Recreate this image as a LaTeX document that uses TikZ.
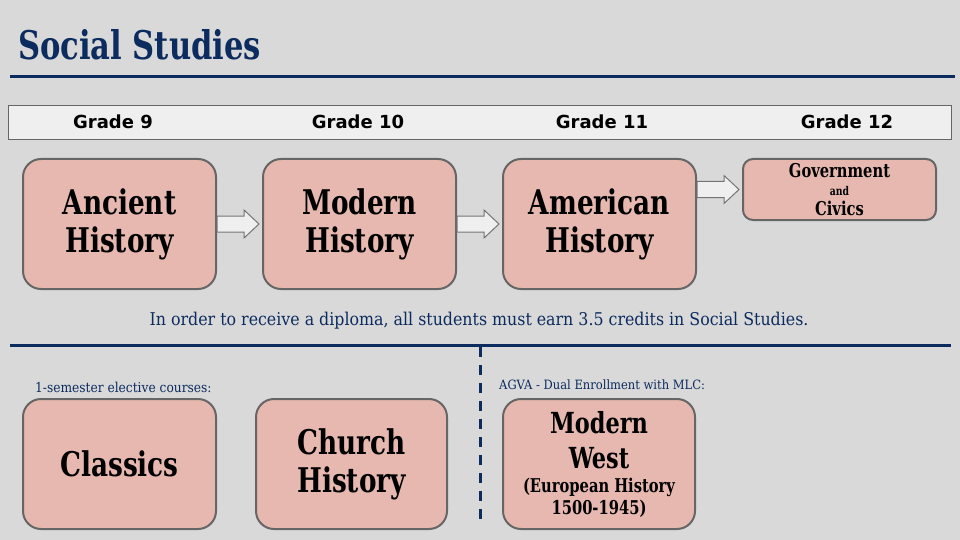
\documentclass[tikz,border=0pt]{standalone}
\usepackage{fontspec}
\setmainfont{DejaVu Serif Condensed}
\newfontfamily\slab[FakeStretch=0.86]{DejaVu Serif Condensed}
\newfontfamily\gradefont{DejaVu Sans}
\usetikzlibrary{calc}
\definecolor{navy}{HTML}{0C2B5E}
\definecolor{pagegray}{HTML}{D9D9D9}
\definecolor{rose}{HTML}{E6B8AF}
\definecolor{edge}{HTML}{666666}
\definecolor{band}{HTML}{EFEFEF}
\tikzset{
  course/.style={draw=edge, line width=2pt, fill=rose, rounded corners=18pt,
    align=center, minimum width=193pt, minimum height=130pt, inner sep=0pt,
    font=\slab\bfseries\fontsize{34}{38}\selectfont},
  grade/.style={font=\gradefont\bfseries\fontsize{18}{20}\selectfont},
  note/.style={text=navy, inner sep=0pt},
  block/.style={draw=edge!90, line width=1pt, fill=band,
    to path={let \p1=(\tikztostart), \p2=(\tikztotarget) in
      (\x1,\y1+8) -- (\x2-18,\y1+8) -- (\x2-18,\y1+14) -- (\x2-3,\y1)
      -- (\x2-18,\y1-14) -- (\x2-18,\y1-8) -- (\x1,\y1-8) -- cycle}},
  rule/.style={navy, line width=3pt}
}
\begin{document}
\begin{tikzpicture}[x=1pt, y=-1pt]
  \fill[pagegray] (0,0) rectangle (960,540);
  \useasboundingbox (0,0) rectangle (960,540);
  % title and rules
  \node[note, anchor=base west, font=\slab\bfseries\fontsize{39.5}{40}\selectfont] (title) at (18,60) {Social Studies};
  \coordinate (r1a) at (10,77);
  \coordinate (r1b) at (955,77);
  \coordinate (r2a) at (10,345);
  \coordinate (r2b) at (951,345);
  \coordinate (d1) at (480,347);
  \coordinate (d2) at (480,525);
  \draw[rule] (r1a) -- (r1b);
  \draw[rule] (r2a) -- (r2b);
  \draw[navy, line width=3pt, dash pattern=on 10pt off 8pt] (d1) -- (d2);
  % grade band
  \node[draw=edge, fill=band, minimum width=943pt, minimum height=34pt, inner sep=0pt] (band) at (479.5,122) {};
  \node[grade] (g9) at (113,122) {Grade 9};
  \node[grade] (g10) at (358,122) {Grade 10};
  \node[grade] (g11) at (602,122) {Grade 11};
  \node[grade] (g12) at (847,122) {Grade 12};
  % required courses
  \node[course] (anc) at (119.5,224) {Ancient\\History};
  \node[course] (mod) at (359.5,224) {Modern\\History};
  \node[course] (ame) at (599.5,224) {American\\History};
  \node[course, minimum height=61pt, rounded corners=10pt, font=\slab\bfseries\fontsize{19}{19}\selectfont]
    (gov) at (839.5,189.5) {Government\\[-1pt]{\fontsize{12}{12}\selectfont and}\\[1pt]Civics};
  \draw[block] (anc.east) to (mod.west);
  \draw[block] (mod.east) to (ame.west);
  \draw[block] (ame.east |- gov.west) to (gov.west);
  \node[note, font=\fontsize{17.6}{20}\selectfont] (rule) at (479,321) {In order to receive a diploma, all students must earn 3.5 credits in Social Studies.};
  % electives
  \node[note, anchor=west, font=\fontsize{13.6}{15}\selectfont] (elec) at (35,387) {1-semester elective courses:};
  \node[note, anchor=west, font=\fontsize{12.8}{14}\selectfont] (agva) at (499,385) {AGVA - Dual Enrollment with MLC:};
  \node[course] (cla) at (119.5,464) {Classics};
  \node[course, minimum width=191pt] (chu) at (351.5,464) {Church\\History};
  \node[course, minimum width=192pt, font=\slab\bfseries\fontsize{29}{35}\selectfont]
    (mwe) at (599,464) {Modern\\West\\[-11pt]{\fontsize{19}{22}\selectfont (European History}\\[-13pt]{\fontsize{19}{22}\selectfont 1500-1945)}};
\end{tikzpicture}
\end{document}
